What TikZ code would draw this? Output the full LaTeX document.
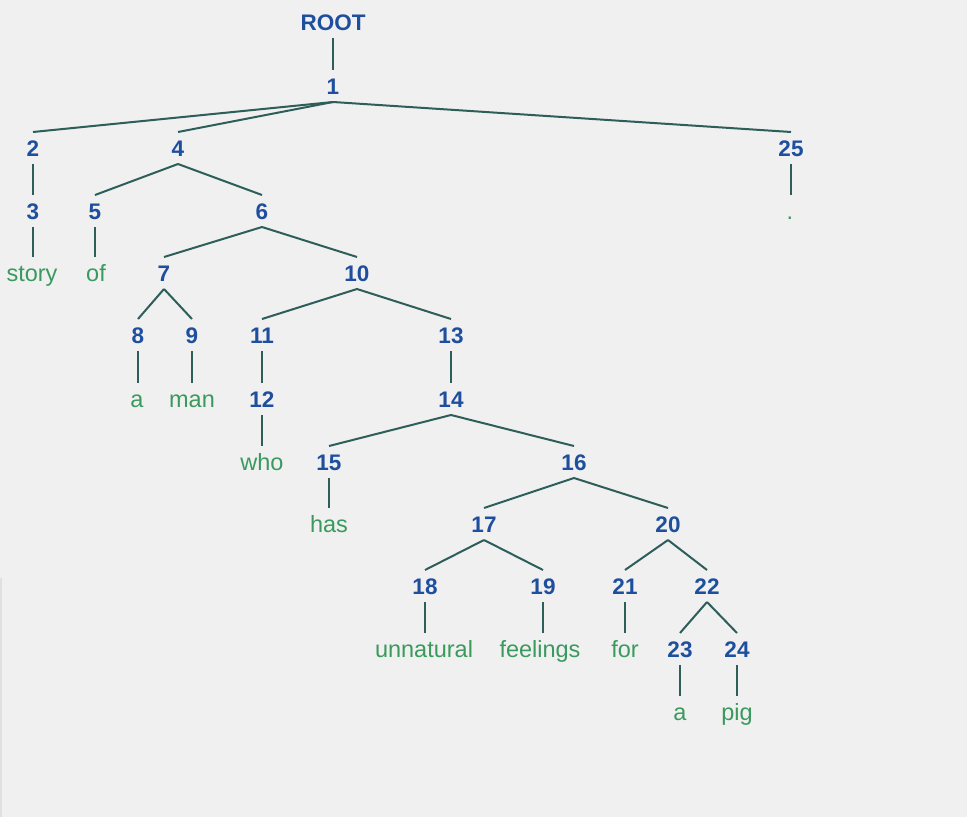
\documentclass[tikz,border=0pt]{standalone}
\usepackage{fontspec}
\usetikzlibrary{calc}
\setmainfont{Liberation Sans}
\definecolor{bgc}{HTML}{F0F0F0}
\definecolor{numc}{HTML}{1E4E9E}
\definecolor{wordc}{HTML}{3A9A5E}
\definecolor{linec}{HTML}{2D5E5A}
\tikzset{
  num/.style={anchor=base, inner sep=0pt, text=numc, font=\fontsize{22.5}{26}\selectfont\bfseries},
  word/.style={anchor=base, inner sep=0pt, text=wordc, font=\fontsize{23.5}{27}\selectfont},
  edge/.style={draw=linec, line width=2pt},
}
\newcommand{\lnk}[2]{\draw[edge] ([yshift=-7.5pt]#1.base) -- ([yshift=24.5pt]#2.base);}
\newcommand{\vlnk}[2]{%
  \coordinate (ls) at ([yshift=-7.5pt]#1.base);
  \coordinate (lt) at ([yshift=24.5pt]#2.base);
  \draw[edge] (ls) -- (ls |- lt);}
\begin{document}
\begin{tikzpicture}[x=1pt,y=-1pt]
\fill[bgc] (0,0) rectangle (967,817);
\useasboundingbox (0,0) rectangle (967,817);
\draw[color=black!12, line width=1.5pt] (1,578) -- (1,817);
% nodes (baseline = center + 8.5)
\node[num] (root) at (333,30.5) {ROOT};
\node[num] (n1) at (333,94.5) {1};
\node[num] (n2) at (33,156.5) {2};
\node[num] (n4) at (178,156.5) {4};
\node[num] (n25) at (791,156.5) {25};
\node[num] (n3) at (33,219.5) {3};
\node[num] (n5) at (95,219.5) {5};
\node[num] (n6) at (262,219.5) {6};
\node[word] (dot) at (790,219.5) {.};
\node[word] (story) at (32,281.5) {story};
\node[word] (of) at (96,281.5) {of};
\node[num] (n7) at (164,281.5) {7};
\node[num] (n10) at (357,281.5) {10};
\node[num] (n8) at (138,343.5) {8};
\node[num] (n9) at (192,343.5) {9};
\node[num] (n11) at (262,343.5) {11};
\node[num] (n13) at (451,343.5) {13};
\node[word] (wa) at (137,407.5) {a};
\node[word] (man) at (192,407.5) {man};
\node[num] (n12) at (262,407.5) {12};
\node[num] (n14) at (451,407.5) {14};
\node[word] (who) at (262,470.5) {who};
\node[num] (n15) at (329,470.5) {15};
\node[num] (n16) at (574,470.5) {16};
\node[word] (has) at (329,532.5) {has};
\node[num] (n17) at (484,532.5) {17};
\node[num] (n20) at (668,532.5) {20};
\node[num] (n18) at (425,594.5) {18};
\node[num] (n19) at (543,594.5) {19};
\node[num] (n21) at (625,594.5) {21};
\node[num] (n22) at (707,594.5) {22};
\node[word] (unnatural) at (424,657.5) {unnatural};
\node[word] (feelings) at (540,657.5) {feelings};
\node[word] (for) at (625,657.5) {for};
\node[num] (n23) at (680,657.5) {23};
\node[num] (n24) at (737,657.5) {24};
\node[word] (wb) at (680,720.5) {a};
\node[word] (pig) at (737,720.5) {pig};
% connectors
\vlnk{root}{n1}
\lnk{n1}{n2}\lnk{n1}{n4}\lnk{n1}{n25}
\vlnk{n2}{n3}\vlnk{n3}{story}
\lnk{n4}{n5}\lnk{n4}{n6}\vlnk{n5}{of}
\vlnk{n25}{dot}
\lnk{n6}{n7}\lnk{n6}{n10}
\lnk{n7}{n8}\lnk{n7}{n9}\vlnk{n8}{wa}\vlnk{n9}{man}
\lnk{n10}{n11}\lnk{n10}{n13}\vlnk{n11}{n12}\vlnk{n12}{who}
\vlnk{n13}{n14}\lnk{n14}{n15}\lnk{n14}{n16}\vlnk{n15}{has}
\lnk{n16}{n17}\lnk{n16}{n20}
\lnk{n17}{n18}\lnk{n17}{n19}\vlnk{n18}{unnatural}\vlnk{n19}{feelings}
\lnk{n20}{n21}\lnk{n20}{n22}\vlnk{n21}{for}
\lnk{n22}{n23}\lnk{n22}{n24}\vlnk{n23}{wb}\vlnk{n24}{pig}
\end{tikzpicture}
\end{document}
